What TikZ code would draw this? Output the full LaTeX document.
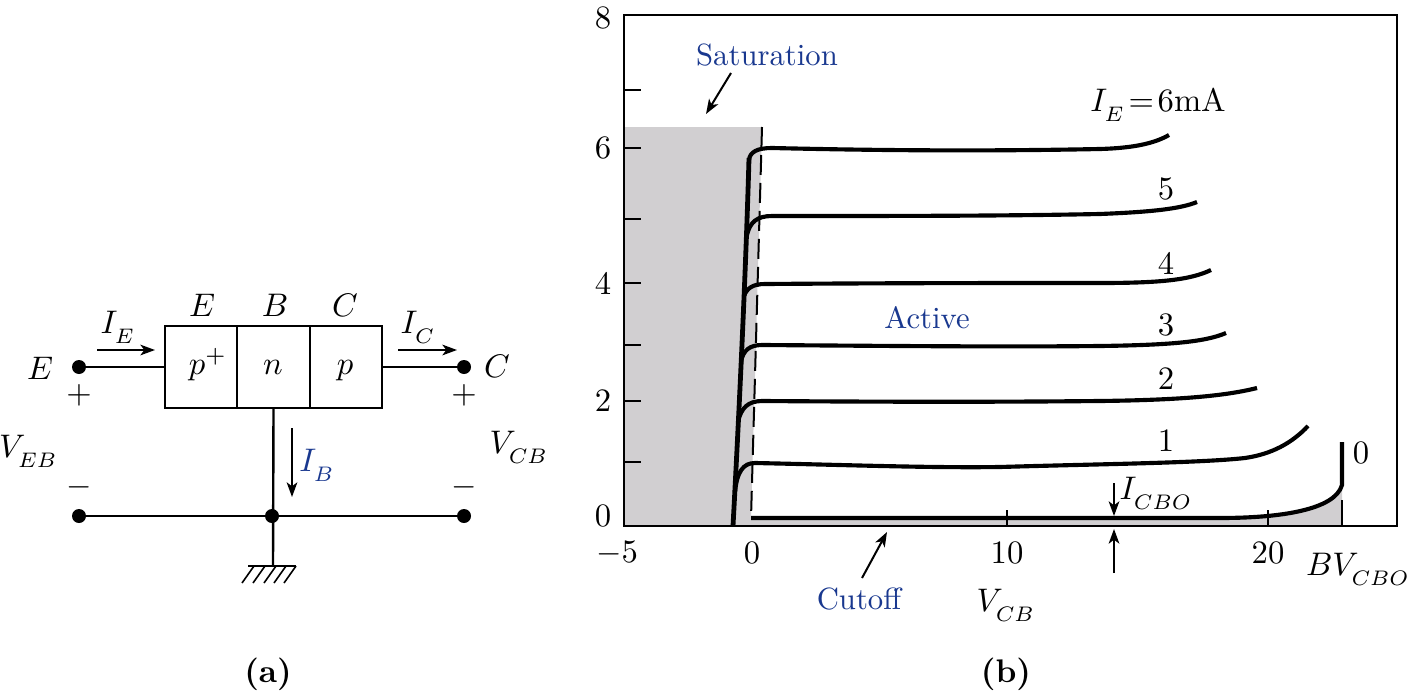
\documentclass[tikz,border=0pt]{standalone}
\usepackage{amsmath}
\usepackage{xcolor}
\usetikzlibrary{arrows.meta, positioning}
\definecolor{regionblue}{rgb}{0.10,0.22,0.56}
\definecolor{regiongray}{rgb}{0.82,0.81,0.82}
\newcommand{\lowsub}[1]{_{\raisebox{-1.5pt}{\scalebox{0.92}{$\scriptstyle #1$}}}}
\tikzset{
  lab/.style={scale=2.45, inner sep=0pt},
  bluelab/.style={lab, text=regionblue},
  wordlab/.style={bluelab, scale=0.94},
  cell/.style={draw, line width=1.7pt, minimum width=54.5pt, minimum height=61.5pt, inner sep=0pt},
  termdot/.style={circle, fill=black, inner sep=0pt, minimum size=10.5pt},
  wire/.style={line width=1.8pt},
  curve/.style={line width=3.1pt},
  flow/.style={line width=1.5pt, -{Stealth[length=11pt, width=8pt, inset=3pt]}}
}

\begin{document}
\begin{tikzpicture}[x=0.75pt,y=0.75pt,yscale=-1]
\useasboundingbox (0,0) rectangle (1409,692);
% Part a
\node [cell] (cellE) at (201,367) {};
\node [cell] (cellB) at (273.5,367) {};
\node [cell] (cellC) at (346,367) {};
\node [termdot] (termE) at (79,367) {};
\node [termdot] (termC) at (464,367) {};
\node [termdot] (termEb) at (79,516) {};
\node [termdot] (termCb) at (464,516) {};
\node [termdot] (junc) at (272,516) {};
\coordinate (gnd) at (273,566);
\draw [wire] (termE) -- (cellE.west);
\draw [wire] (cellC.east) -- (termC);
\draw [wire] (cellB.south) -- (gnd);
\draw [wire] (termEb) -- (junc);
\draw [wire] (junc) -- (termCb);
% Ground
\draw [line width=1.5pt] (248,566) -- (296,566);
\draw [line width=1.2pt] (254,566) -- (242,583) (265,566) -- (253,583) (276,566) -- (264,583) (286,566) -- (274,583) (296,566) -- (284,583);
% Current arrows
\coordinate (ieA) at (97,350);
\coordinate (ieB) at (155,350);
\coordinate (icA) at (398,350);
\coordinate (icB) at (457,350);
\coordinate (ibA) at (292,428);
\coordinate (ibB) at (292,497);
\draw [flow] (ieA) -- (ieB);
\draw [flow] (icA) -- (icB);
\draw [flow] (ibA) -- (ibB);
% Text Node
\draw (202,305) node [lab] (nameE) {$E$};
\draw (275,305) node [lab] (nameB) {$B$};
\draw (345,305) node [lab] (nameC) {$C$};
\draw (208,365) node [lab] (dopeE) {$p^{+}$};
\draw (273,367) node [lab] (dopeB) {$n$};
\draw (345,371) node [lab] (dopeC) {$p$};
\draw (40,368) node [lab] (endE) {$E$};
\draw (497,366) node [lab] (endC) {$C$};
\draw (118,327) node [lab] (curE) {$I\lowsub{E}$};
\draw (418,327) node [lab] (curC) {$I\lowsub{C}$};
\draw (317,465) node [bluelab] (curB) {$I\lowsub{B}$};
\draw (28.5,451) node [lab] (voltE) {$V\lowsub{EB}$};
\draw (519,447) node [lab] (voltC) {$V\lowsub{CB}$};
\draw (79,395) node [lab] (plusE) {$+$};
\draw (464,395) node [lab] (plusC) {$+$};
\draw (79,487) node [lab] (minusE) {$-$};
\draw (464,487) node [lab] (minusC) {$-$};
\draw (268,674) node [lab] (capA) {\textbf{(a)}};
% Part b
\fill [regiongray] (624,127) -- (762,127) -- (751,518) -- (1235,518) .. controls (1290,515) and (1335,505) .. (1342,490) -- (1342,526) -- (624,526) -- cycle;
\draw [line width=1.5pt] (624,15) rectangle (1397,526);
\draw [line width=1.5pt] (624,90) -- (641,90) (624,148) -- (641,148) (624,219) -- (641,219) (624,283) -- (641,283) (624,345) -- (641,345) (624,401) -- (641,401) (624,462) -- (641,462);
\draw [line width=1.5pt] (1007,510) -- (1007,526) (1268,510) -- (1268,526);
\draw [line width=1.5pt, dash pattern=on 15pt off 6pt] (762,127) -- (751,518);
\draw [line width=1.5pt] (1342,500) -- (1342,526);
% Curves
\draw [line width=3.6pt] (733,526) .. controls (736,470) and (745,300) .. (749,158);
\draw [curve] (749,160) .. controls (750,152) and (757,148) .. (772,148) .. controls (900,151) and (1000,151) .. (1100,149) .. controls (1135,148) and (1155,143) .. (1169,135);
\draw [curve] (747,235) .. controls (750,222) and (757,216) .. (772,216) .. controls (900,216) and (1000,216) .. (1100,214) .. controls (1150,212) and (1180,209) .. (1197,202);
\draw [curve] (744,296) .. controls (747,288) and (753,284) .. (765,284) .. controls (900,283) and (1000,283) .. (1100,283) .. controls (1160,283) and (1190,280) .. (1211,270);
\draw [curve] (741,362) .. controls (743,350) and (750,345) .. (762,345) .. controls (900,346) and (1000,347) .. (1100,346) .. controls (1170,345) and (1205,342) .. (1226,333);
\draw [curve] (738,422) .. controls (741,408) and (748,401) .. (762,401) .. controls (900,402) and (1000,402) .. (1100,401) .. controls (1180,400) and (1225,396) .. (1257,388);
\draw [curve] (735,492) .. controls (737,472) and (743,463) .. (755,463) .. controls (850,465) and (930,468) .. (1000,467) .. controls (1100,464) and (1200,463) .. (1245,458) .. controls (1272,454) and (1292,443) .. (1308,426);
\draw [curve] (751,518) -- (1220,518) .. controls (1280,518) and (1335,510) .. (1342,485) -- (1342,442);
% Region arrows
\coordinate (satA) at (731,73);
\coordinate (satB) at (706,114);
\coordinate (cutA) at (862,578);
\coordinate (cutB) at (887,532);
\coordinate (icoA) at (1114,483);
\coordinate (icoB) at (1114,516);
\coordinate (icuA) at (1114,573);
\coordinate (icuB) at (1114,529);
\draw [flow] (satA) -- (satB);
\draw [flow] (cutA) -- (cutB);
\draw [flow] (icoA) -- (icoB);
\draw [flow] (icuA) -- (icuB);
% Text Node
\draw (767,55) node [wordlab] (satLab) {Saturation};
\draw (927,318) node [wordlab] (actLab) {Active};
\draw (859,599) node [wordlab] (cutLab) {Cutoff};
\draw (1158,105) node [lab] (ieSix) {$I\lowsub{E}\!=\!6\mathrm{mA}$};
\draw (1166,189) node [lab] (ieFive) {5};
\draw (1166,263) node [lab] (ieFour) {4};
\draw (1166,325) node [lab] (ieThree) {3};
\draw (1166,379) node [lab] (ieTwo) {2};
\draw (1166,441) node [lab] (ieOne) {1};
\draw (1361,453) node [lab] (ieZero) {0};
\draw (1156,493) node [lab] (icboLab) {$I\lowsub{CBO}$};
\draw (603,18) node [lab] (yEight) {8};
\draw (603,148) node [lab] (ySix) {6};
\draw (603,283) node [lab] (yFour) {4};
\draw (603,401) node [lab] (yTwo) {2};
\draw (603,516) node [lab] (yZero) {0};
\draw (617,553) node [lab] (xMinus) {$-$5};
\draw (752,553) node [lab] (xZero) {0};
\draw (1007,553) node [lab] (xTen) {10};
\draw (1268,553) node [lab] (xTwenty) {20};
\draw (1358,569) node [lab] (bvLab) {$BV\lowsub{CBO}$};
\draw (1006,605) node [lab] (vcbLab) {$V\lowsub{CB}$};
\draw (1006,674) node [lab] (capB) {\textbf{(b)}};
\end{tikzpicture}
\end{document}
